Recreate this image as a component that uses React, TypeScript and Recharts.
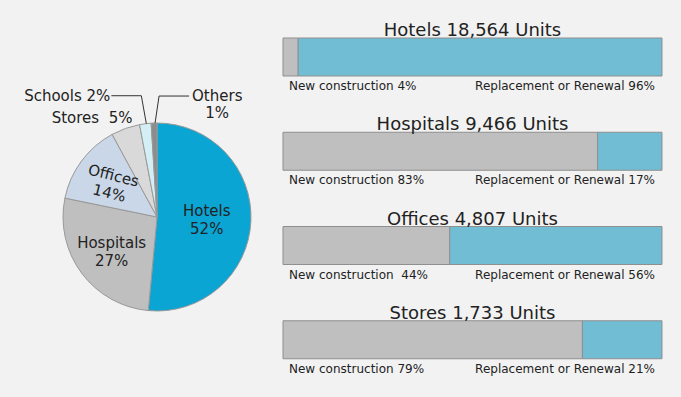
import { PieChart, Pie, Cell, BarChart, Bar, XAxis, YAxis, LabelList } from "recharts";

const pieNames = ["Hotels", "Hospitals", "Offices", "Stores", "Schools", "Others"];
const pieShares = [52, 27, 14, 5, 2, 1];
const pieColors = ["#0aa5d3", "#bfbfbf", "#c9d7e8", "#d9d9d9", "#d4eef5", "#8c8c8c"];

const barNames = ["Hotels", "Hospitals", "Offices", "Stores"];
const barUnits = ["18,564", "9,466", "4,807", "1,733"];
const newShares = [4, 83, 44, 79];
const renewShares = [96, 17, 56, 21];
const newLabels = ["New construction 4%", "New construction 83%", "New construction  44%", "New construction 79%"];

const pieData = pieNames.map((name, i) => ({ name, value: pieShares[i] }));
const barData = barNames.map((name, i) => ({
  name,
  units: barUnits[i],
  newShare: newShares[i],
  renew: renewShares[i],
}));

const FONT = "'DejaVu Sans', sans-serif";
const TEXT = "#222";
const RAD = Math.PI / 180;

const PieLabel = (props: any) => {
  const { cx, cy, midAngle, outerRadius, index, name, value } = props;
  const pt = (r: number) => ({
    x: cx + r * Math.cos(-midAngle * RAD),
    y: cy + r * Math.sin(-midAngle * RAD),
  });
  const common = { fontFamily: FONT, fontSize: 15, fill: TEXT };

  if (index < 3) {
    const factor = [0.53, 0.6, 0.6][index];
    const p = pt(outerRadius * factor);
    const rot = index === 2 ? 14 : 0;
    return (
      <g transform={`rotate(${rot} ${p.x} ${p.y})`}>
        <text x={p.x} y={p.y - 3} textAnchor="middle" {...common}>{name}</text>
        <text x={p.x} y={p.y + 15} textAnchor="middle" {...common}>{value}%</text>
      </g>
    );
  }
  const o = pt(outerRadius);
  if (name === "Stores") {
    return (
      <text x={o.x + 7} y={o.y - 5} textAnchor="end" {...common} style={{ whiteSpace: "pre" }}>
        {`${name}  ${value}%`}
      </text>
    );
  }
  if (name === "Schools") {
    return (
      <g>
        <polyline points={`${o.x + 1},${o.y} ${o.x - 4},${o.y - 28} ${o.x - 34},${o.y - 28}`} fill="none" stroke="#333" strokeWidth={1} />
        <text x={o.x - 35} y={o.y - 23} textAnchor="end" {...common}>{`${name} ${value}%`}</text>
      </g>
    );
  }
  return (
    <g>
      <polyline points={`${o.x + 1},${o.y} ${o.x + 5},${o.y - 27} ${o.x + 35},${o.y - 27}`} fill="none" stroke="#333" strokeWidth={1} />
      <text x={o.x + 38} y={o.y - 22} {...common}>{name}</text>
      <text x={o.x + 63} y={o.y - 5} textAnchor="middle" {...common}>{value}%</text>
    </g>
  );
};

const TitleLabel = (props: any) => {
  const { x, y, width, height, index, value } = props;
  const full = (width * 100) / value;
  const d = barData[index];
  return (
    <g>
      <text x={x + full / 2} y={y - 2} textAnchor="middle" fontFamily={FONT} fontSize={18} fill={TEXT}>
        {`${d.name} ${d.units} Units`}
      </text>
      <text x={x + 6} y={y + height + 14} fontFamily={FONT} fontSize={12} fill={TEXT} style={{ whiteSpace: "pre" }}>
        {newLabels[index]}
      </text>
    </g>
  );
};

const RenewLabel = (props: any) => {
  const { x, y, width, height, value } = props;
  return (
    <text x={x + width - 7} y={y + height + 14} textAnchor="end" fontFamily={FONT} fontSize={12} fill={TEXT}>
      {`Replacement or Renewal ${value}%`}
    </text>
  );
};

export default function App() {
  return (
    <div style={{ position: "absolute", left: 0, top: 0, width: 681, height: 397, background: "#f2f2f2" }}>
      <div style={{ position: "absolute", left: 0, top: 0 }}>
        <PieChart width={300} height={397} margin={{ top: 0, right: 0, bottom: 0, left: 0 }}>
          <Pie
            data={pieData}
            dataKey="value"
            nameKey="name"
            cx={157}
            cy={217}
            outerRadius={94}
            startAngle={90}
            endAngle={-270}
            stroke="#999"
            strokeWidth={1}
            label={PieLabel}
            labelLine={false}
            isAnimationActive={false}
          >
            {pieData.map((d, i) => (
              <Cell key={d.name} fill={pieColors[i]} />
            ))}
          </Pie>
        </PieChart>
      </div>
      <div style={{ position: "absolute", left: 282, top: 0 }}>
        <BarChart
          width={381}
          height={397}
          layout="vertical"
          data={barData}
          barSize={38}
          margin={{ top: 10, right: 1, bottom: 10, left: 1 }}
        >
          <XAxis type="number" domain={[0, 100]} hide />
          <YAxis type="category" dataKey="name" hide />
          <Bar dataKey="newShare" stackId="a" fill="#bfbfbf" stroke="#8f8f8f" strokeWidth={1} isAnimationActive={false}>
            <LabelList dataKey="newShare" content={TitleLabel} />
          </Bar>
          <Bar dataKey="renew" stackId="a" fill="#71bdd3" stroke="#8f8f8f" strokeWidth={1} isAnimationActive={false}>
            <LabelList dataKey="renew" content={RenewLabel} />
          </Bar>
        </BarChart>
      </div>
    </div>
  );
}
